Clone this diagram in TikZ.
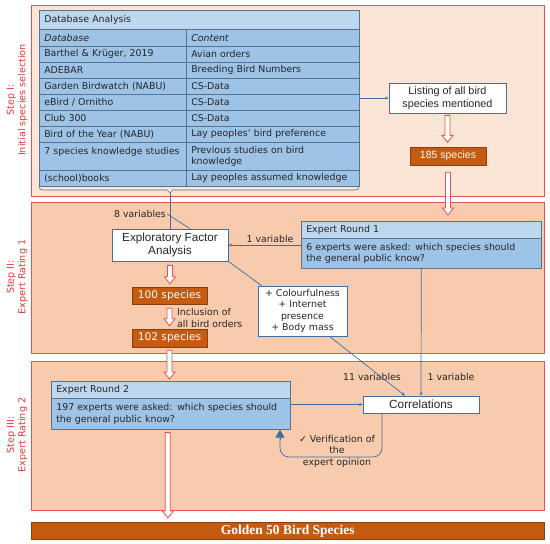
\documentclass[tikz,border=0pt]{standalone}
\usepackage{fontspec}
\setmainfont{DejaVu Sans}
\newfontfamily\arialf{Liberation Sans}
\newfontfamily\goldf{Liberation Serif}
\usetikzlibrary{arrows.meta,calc}
\definecolor{peachA}{HTML}{FBE5D6}
\definecolor{peachB}{HTML}{F8CBAD}
\definecolor{stepred}{HTML}{E8524F}
\definecolor{lblred}{HTML}{E23B3B}
\definecolor{hdrb}{HTML}{BDD7EE}
\definecolor{rowb}{HTML}{9DC3E6}
\definecolor{tblb}{HTML}{58728F}
\definecolor{connb}{HTML}{3F6EA5}
\definecolor{orng}{HTML}{C55A11}
\definecolor{txt}{HTML}{262626}
\tikzset{
  stepbox/.style={draw=stepred, line width=0.9pt, anchor=north west, inner sep=0pt},
  steplbl/.style={text=lblred, align=center, rotate=90, font=\fontsize{9.6}{11.5}\selectfont},
  cell/.style={draw=tblb, fill=rowb, anchor=north west, inner xsep=5pt, inner ysep=0pt, align=left, line width=0.6pt, text=txt},
  wbox/.style={draw=connb, fill=white, line width=0.7pt, align=center, inner sep=0pt, text=txt},
  obox/.style={draw=orng!70!black, fill=orng, text=white, inner sep=0pt, line width=0.5pt},
  conn/.style={draw=connb, line width=0.7pt},
  tip/.style={-{Stealth[length=3.5pt,width=3pt]}},
  harr/.style={draw=stepred, fill=white, line width=0.8pt},
  lbl/.style={text=txt, inner sep=1pt, align=center}
}
\newcommand\dbrow[5]{%
  \node[cell, text width=137pt, minimum height=#3pt] (#1a) at (39,#2) {#4};
  \node[cell, text width=163pt, minimum height=#3pt] (#1b) at (186,#2) {#5};}
\newcommand\harrow[2]{%
  \draw[harr] let \p1=(#1), \p2=(#2) in
  (\x1-2.5pt,\y1) -- (\x1-2.5pt,\y2+7pt) -- (\x1-5.5pt,\y2+7pt) -- (\x1,\y2)
  -- (\x1+5.5pt,\y2+7pt) -- (\x1+2.5pt,\y2+7pt) -- (\x1+2.5pt,\y1) -- cycle;}
\begin{document}
\begin{tikzpicture}[x=1pt,y=-1pt, font=\fontsize{9.4}{11.5}\selectfont]
\useasboundingbox[fill=white] (0,0) rectangle (550,544);
% step boxes
\node[stepbox, fill=peachA, minimum width=513pt, minimum height=191pt] (s1) at (31,5) {};
\node[stepbox, fill=peachB, minimum width=513pt, minimum height=151pt] (s2) at (31,202) {};
\node[stepbox, fill=peachB, minimum width=513pt, minimum height=149pt] (s3) at (31,361) {};
\node[steplbl] (l1) at (17,100) {Step I:\\Initial species selection};
\node[steplbl] (l2) at (17,277) {Step II:\\Expert Rating 1};
\node[steplbl] (l3) at (17,435) {Step III:\\Expert Rating 2};
% database table
\draw[tblb, line width=0.6pt] (39,187) to[out=-90,in=180] (43,190) -- (167,190) -- (170,193) -- (173,190) -- (355,190) to[out=0,in=-90] (359,187);
\coordinate (bt) at (170,193);
\node[cell, fill=hdrb, text width=310pt, minimum height=19pt] (dbh) at (39,10) {Database Analysis};
\dbrow{r0}{29}{17}{\itshape Database}{\itshape Content}
\dbrow{r1}{46}{16}{Barthel \& Krüger, 2019}{Avian orders}
\dbrow{r2}{62}{16}{ADEBAR}{Breeding Bird Numbers}
\dbrow{r3}{78}{16}{Garden Birdwatch (NABU)}{CS-Data}
\dbrow{r4}{94}{16}{eBird / Ornitho}{CS-Data}
\dbrow{r5}{110}{16}{Club 300}{CS-Data}
\dbrow{r6}{126}{16}{Bird of the Year (NABU)}{\mbox{Lay peoples‘ bird preference}}
\dbrow{r7}{142}{28}{\mbox{7 species knowledge studies}\\\mbox{}}{Previous studies on bird\\knowledge}
\dbrow{r8}{170}{16}{(school)books}{\mbox{Lay peoples assumed knowledge}}
% listing and 185
\node[wbox, minimum width=117pt, minimum height=30pt, font=\arialf\fontsize{10.8}{13}\selectfont] (lst) at (447.5,98) {Listing of all bird\\species mentioned};
\node[obox, minimum width=76pt, minimum height=18pt, font=\arialf\fontsize{10.5}{12}\selectfont] (n185) at (448,156) {185 species};
\draw[conn, tip] (lst.west -| r4b.east) -- (lst.west);
% expert round 1
\node[cell, fill=hdrb, draw=tblb, text width=230pt, minimum height=17pt] (er1h) at (301,221) {Expert Round 1};
\node[cell, text width=230pt, minimum height=30pt] (er1b) at (301,238) {6 experts were asked: which species should\\the general public know?};
% EFA
\node[wbox, minimum width=116pt, minimum height=32pt, font=\arialf\fontsize{11.7}{13.5}\selectfont] (efa) at (170,245) {Exploratory Factor\\Analysis};
\node[obox, minimum width=75pt, minimum height=17pt, font=\fontsize{10.6}{12}\selectfont] (n100) at (169.5,295.5) {100 species};
\node[obox, minimum width=75pt, minimum height=18pt, font=\fontsize{10.6}{12}\selectfont] (n102) at (169.5,338) {102 species};
\node[lbl, anchor=west, align=left] (incl) at (176,318) {Inclusion of\\all bird orders};
\node[wbox, minimum width=89pt, minimum height=50pt] (attr) at (302.5,311) {+ Colourfulness\\+ Internet\\presence\\+ Body mass};
\node[lbl] (v8) at (140,214) {8 variables};
\node[lbl] (v1) at (270,238.5) {1 variable};
% expert round 2
\node[cell, fill=hdrb, text width=229pt, minimum height=17pt] (er2h) at (51,381) {Expert Round 2};
\node[cell, text width=229pt, minimum height=31pt] (er2b) at (51,398) {197 experts were asked: which species should\\the general public know?};
\node[wbox, minimum width=116pt, minimum height=17pt, font=\arialf\fontsize{11.8}{13}\selectfont] (cor) at (421,404.5) {Correlations};
\node[lbl] (v11) at (372,377) {11 variables};
\node[lbl] (v1b) at (451,377) {1 variable};
\node[lbl] (ver) at (337,451) {✓ Verification of\\the\\expert opinion};
% golden bar
\node[obox, anchor=north west, minimum width=513pt, minimum height=17pt, font=\goldf\bfseries\fontsize{13.5}{14}\selectfont] (gold) at (31,522) {Golden 50 Bird Species};
% connectors
\draw[conn] (bt) -- (efa.north);
\draw[conn] (v8.east) -- ([xshift=20pt]efa.north);
\draw[conn, tip] (efa.east -| er1b.west) -- (efa.east);
\draw[conn] (efa.south east) -- ([xshift=4pt]attr.north west);
\draw[conn, tip] ([xshift=27pt]attr.south) -- ([xshift=-16pt]cor.north);
\draw[conn, tip] (er1b.south) -- (cor.north);
\draw[conn, tip] (cor.west -| er2b.east) -- (cor.west);
\coordinate (lp) at (280,457);
\draw[conn, rounded corners=9pt] ([xshift=-39pt]cor.south) |- (lp) -- (280,438);
\draw[conn, -{Triangle[length=8pt,width=9pt]}] (280,440) -- (lp |- er2b.south);
% hollow arrows
\harrow{[yshift=-2pt]lst.south}{[yshift=-29pt]lst.south}
\harrow{[yshift=-7pt]n185.south}{[yshift=6pt]er1h.north}
\harrow{[yshift=-4pt]efa.south}{[yshift=3pt]n100.north}
\harrow{[yshift=-4pt]n100.south}{[yshift=3pt]n102.north}
\harrow{[yshift=-3pt]n102.south}{[yshift=2pt]er2h.north}
\harrow{[xshift=-3pt,yshift=-3pt]er2b.south}{[xshift=-3pt,yshift=4pt]er2b.south |- gold.north}
\end{tikzpicture}
\end{document}
